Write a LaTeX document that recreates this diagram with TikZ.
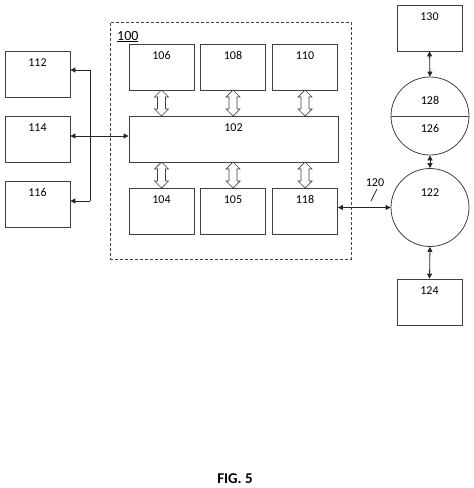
\documentclass[tikz,border=0pt]{standalone}
\usepackage{fontspec}
\setmainfont{Carlito}
\usetikzlibrary{arrows.meta,shapes.arrows,calc}
\begin{document}
\begin{tikzpicture}[x=1pt,y=-1pt,
  every node/.style={font=\fontsize{12}{14}\selectfont},
  box/.style={draw=black!75,line width=0.8pt,minimum width=65pt,minimum height=46pt,inner sep=0pt},
  circ/.style={draw=black!75,line width=0.8pt,circle,minimum size=78pt,inner sep=0pt},
  tag/.style={anchor=base,yshift=-16pt,inner sep=0pt},
  blk/.style={draw=black!75,line width=0.7pt,fill=white,shape=double arrow,rotate=90,
    minimum height=26pt,minimum width=14pt,inner xsep=0pt,inner ysep=3.5pt,
    double arrow head extend=3pt},
  con/.style={draw=black!85,line width=0.8pt},
  tip/.style={-{Triangle[length=5pt,width=5pt]}},
  tips/.style={{Triangle[length=5pt,width=5pt]}-{Triangle[length=5pt,width=5pt]}}
]
\useasboundingbox (0,0) rectangle (474,488);
% dashed frame
\node[draw=black!75,line width=0.7pt,dash pattern=on 3pt off 2pt,minimum width=241pt,minimum height=237pt,inner sep=0pt] (frame) at (230.5,140.5) {};
\node[anchor=base west,inner sep=0pt,font=\fontsize{14}{16}\selectfont] (t100) at (117,40) {\underline{100}};
% inner boxes
\node[box,label={[tag]north:106}] (b106) at (161.5,67) {};
\node[box,label={[tag]north:108}] (b108) at (233,67) {};
\node[box,label={[tag]north:110}] (b110) at (305,67) {};
\node[box,minimum width=209pt,label={[tag]north:102}] (b102) at (233.5,139) {};
\node[box,label={[tag]north:104}] (b104) at (161.5,211) {};
\node[box,label={[tag]north:105}] (b105) at (233,211) {};
\node[box,label={[tag]north:118}] (b118) at (305,211) {};
% left boxes
\node[box,label={[tag]north:112}] (b112) at (37.5,74) {};
\node[box,label={[tag]north:114}] (b114) at (37.5,139) {};
\node[box,label={[tag]north:116}] (b116) at (37.5,204) {};
% right side
\node[box,label={[tag]north:130}] (b130) at (429.5,28) {};
\node[box,label={[tag]north:124}] (b124) at (429.5,302) {};
\node[circ] (c1) at (430,116) {};
\node[circ] (c122) at (430,207.5) {};
\draw[black!75,line width=0.8pt] (c1.west) -- (c1.east);
\node[anchor=base,inner sep=0pt] (t128) at (430,104) {128};
\node[anchor=base,inner sep=0pt] (t126) at (430,132) {126};
\node[anchor=base,inner sep=0pt] (t122) at (430,196) {122};
% block arrows
\node[blk] (a1) at ($(b106.south)!0.5!(b106.south |- b102.north)$) {};
\node[blk] (a2) at ($(b108.south)!0.5!(b108.south |- b102.north)$) {};
\node[blk] (a3) at ($(b110.south)!0.5!(b110.south |- b102.north)$) {};
\node[blk] (a4) at ($(b104.north)!0.5!(b104.north |- b102.south)$) {};
\node[blk] (a5) at ($(b105.north)!0.5!(b105.north |- b102.south)$) {};
\node[blk] (a6) at ($(b118.north)!0.5!(b118.north |- b102.south)$) {};
% bus
\coordinate (bt) at (90,70);
\coordinate (bb) at (90,201);
\coordinate (bm) at (90,136);
\draw[con] (bt) -- (bb);
\draw[con,tip] (bt) -- (bt -| b112.east);
\draw[con,tip] (bb) -- (bb -| b116.east);
\draw[con,tips] (bm -| b114.east) -- (bm -| b102.west);
% right connectors
\draw[con,tips] (b130.south) -- (c1.north);
\draw[con,tips] (c1.south) -- (c122.north);
\draw[con,tips] (c122.south) -- (b124.north);
\draw[con,tips] (b118.east |- c122.west) -- (c122.west);
% 120 label
\node[anchor=base,inner sep=0pt] (t120) at (375,186) {120};
\coordinate (s1) at (371,201);
\coordinate (s2) at (377,189);
\draw[black!85,line width=0.7pt] (s1) -- (s2);
% caption
\node[anchor=base,inner sep=0pt,font=\fontsize{15}{18}\selectfont\bfseries] (fig) at (235,483) {FIG. 5};
\end{tikzpicture}
\end{document}
